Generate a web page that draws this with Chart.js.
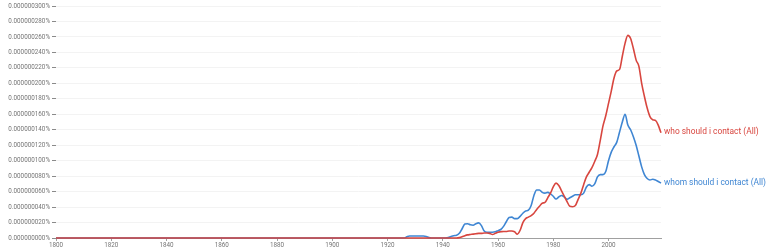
<!DOCTYPE html>
<html>
<head>
<meta charset="utf-8">
<script src="https://cdn.jsdelivr.net/npm/chart.js@4"></script>
<style>
html,body{margin:0;padding:0;background:#fff;}
#wrap{position:relative;width:768px;height:251px;}
</style>
</head>
<body>
<div id="wrap"><canvas id="c" width="768" height="251"></canvas></div>
<script>
// Values in units of 1e-9 percent (0.000000001%)
const years = [1800,
 1920,1921,1922,1923,1924,1925,1926,1927,1928,1929,
 1930,1931,1932,1933,1934,1935,1936,1937,1938,1939,
 1940,1941,1942,1943,1944,1945,1946,1947,1948,1949,
 1950,1951,1952,1953,1954,1955,1956,1957,1958,1959,
 1960,1961,1962,1963,1964,1965,1966,1967,1968,1969,
 1970,1971,1972,1973,1974,1975,1976,1977,1978,1979,
 1980,1981,1982,1983,1984,1985,1986,1987,1988,1989,
 1990,1991,1992,1993,1994,1995,1996,1997,1998,1999,
 2000,2001,2002,2003,2004,2005,2006,2007,2008,2009,
 2010,2011,2012,2013,2014,2015,2016,2017,2018,2019];

const whoLabel = 'who should i contact (All)';
const whoValues = [0,
 0,0,0,0,0,0,0,0,0,0,
 0,0,0,0,0,0,0,0,0,0,
 0,0,0,0,0,0,0.5,1.5,3,4,
 4.5,5,5.5,6,6,6.5,6.5,6,4.5,6,
 7.5,8,8.5,8.5,9,9,8,5,10,20,
 25,27,29,32,37,41,45,46,52,58,
 66,71,68,61,54,47,41,40.5,42,50,
 58,69,79,85,91,99,108,126,145,158,
 174,190,207,216,218,235,252,262,258,245,
 230,222,200,183,168,157,153,152,146,136];

const whomLabel = 'whom should i contact (All)';
const whomValues = [0,
 0,0,0,0,0,0,0,1.5,2.5,2.5,
 2.5,2.5,2.5,2.5,2,0.5,0,0,0,0,
 0,0,0.5,2,3,3.5,6,12,18,18.5,
 17,16.5,18.5,19.5,16,9,7.5,7.5,7.5,8,
 9.5,11,15,21,26.5,27,25,25,28,32,
 35,36,42,55,62,62,59,58,59,57,
 54,50.5,53,55,53,50,52,54,56,56,
 56,58,66,69,67,70,79,82,82,86,
 100,111,118,124,137,150,160,146,140,131,
 120,106,92,82,77,75,76,75,73,71];

const xMin = 1800, xMax = 2019, xStep = 20;
const yMin = 0, yMax = 300, yStep = 20;

const RED = '#d8463f';
const BLUE = '#3f86d3';

const toPoints = vals => years.map((y,i)=>({x:y, y:vals[i]}));

const endLabels = {
  id:'endLabels',
  afterDatasetsDraw(chart){
    const ctx = chart.ctx;
    ctx.save();
    ctx.font = '8.4px Roboto';
    ctx.textBaseline = 'middle';
    ctx.textAlign = 'left';
    chart.data.datasets.forEach((ds,i)=>{
      const meta = chart.getDatasetMeta(i);
      const last = meta.data[meta.data.length-1];
      ctx.fillStyle = ds.borderColor;
      ctx.fillText(ds.label, chart.chartArea.right + 3, last.y - 0.5);
    });
    ctx.restore();
  }
};

new Chart(document.getElementById('c'), {
  type:'line',
  data:{
    datasets:[
      {label:whoLabel, data:toPoints(whoValues), borderColor:RED, backgroundColor:RED,
       borderWidth:1.6, pointRadius:0, cubicInterpolationMode:'monotone', clip:false},
      {label:whomLabel, data:toPoints(whomValues), borderColor:BLUE, backgroundColor:BLUE,
       borderWidth:1.6, pointRadius:0, cubicInterpolationMode:'monotone', clip:false}
    ]
  },
  options:{
    responsive:false,
    animation:false,
    events:[],
    layout:{padding:{top:6, right:107, left:0, bottom:0}},
    plugins:{legend:{display:false}, tooltip:{enabled:false}},
    scales:{
      x:{
        type:'linear', min:xMin, max:xMax,
        afterFit(s){ s.height = 13; },
        border:{display:true, color:'#a0a0a0', width:1},
        grid:{drawOnChartArea:false, drawTicks:true, tickLength:3, tickColor:'#a0a0a0'},
        ticks:{stepSize:xStep, includeBounds:false, autoSkip:false, maxRotation:0, padding:1,
               color:'#757575', font:{family:'Roboto', size:6.3},
               callback:v=>String(v)}
      },
      y:{
        min:yMin, max:yMax,
        afterFit(s){ s.width = 56; },
        border:{display:false},
        grid:{color:'#f3f3f3', lineWidth:1, drawTicks:true, tickLength:4, tickColor:'#8a8a8a'},
        ticks:{stepSize:yStep, padding:2, color:'#757575', font:{family:'Roboto', size:6.3},
               callback:v=>(v*1e-9).toFixed(9)+'%'}
      }
    }
  },
  plugins:[endLabels]
});
</script>
</body>
</html>
